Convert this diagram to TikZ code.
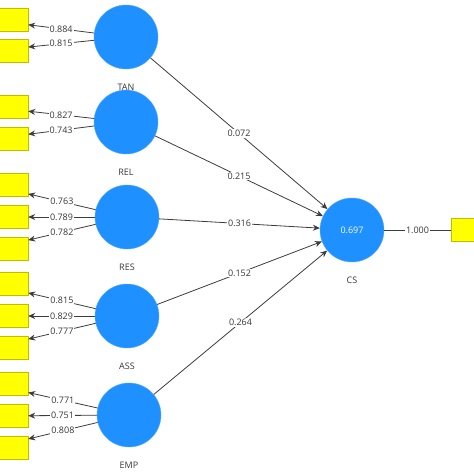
\documentclass[tikz,border=0pt]{standalone}
\usepackage{fontspec}
\setmainfont{Open Sans}
\usetikzlibrary{arrows.meta}

\definecolor{lvblue}{RGB}{30,144,255}
\definecolor{lvedge}{RGB}{90,170,255}
\definecolor{indyellow}{RGB}{255,255,0}
\definecolor{indedge}{RGB}{190,190,0}
\definecolor{pathgray}{RGB}{60,60,60}
\definecolor{txtgray}{RGB}{55,55,55}

\begin{document}
\begin{tikzpicture}[x=1pt, y=-1pt, >={Stealth[length=7pt, width=6pt]},
    lv/.style={circle, draw=lvedge, fill=lvblue, minimum size=64pt, inner sep=0pt,
      font=\small, text=white},
    lvname/.style={text=txtgray, font=\small, yshift=-11pt},
    ind/.style={rectangle, draw=indedge, fill=indyellow, minimum width=76pt, minimum height=23pt},
    conn/.style={draw=pathgray, line width=0.8pt},
    coef/.style={fill=white, inner sep=1pt, text=txtgray, font=\small}]
    \useasboundingbox (0,0) rectangle (474,474);
    \clip (0,0) rectangle (474,474);

    % latent variables
    \node[lv, label={[lvname]below:TAN}] (tan) at (126,37) {};
    \node[lv, label={[lvname]below:REL}] (rel) at (126,122) {};
    \node[lv, label={[lvname]below:RES}] (res) at (127,217) {};
    \node[lv, label={[lvname]below:ASS}] (ass) at (127,316) {};
    \node[lv, label={[lvname]below:EMP}] (emp) at (129,415) {};
    \node[lv, label={[lvname]below:CS}] (cs) at (352,230) {0.697};

    % outer loadings
    \foreach \n/\y/\v/\w in {t1/20/tan/0.884, t2/51/tan/0.815,
        r1/107/rel/0.827, r2/139/rel/0.743,
        s1/185/res/0.763, s2/217/res/0.789, s3/249/res/0.782,
        a1/284/ass/0.815, a2/316/ass/0.829, a3/348/ass/0.777,
        e1/384/emp/0.771, e2/416/emp/0.751, e3/448/emp/0.808} {
      \node[ind] (\n) at (-10,\y) {};
      \draw[->, conn] (\v) -- node[coef] {\w} (\n);
    }

    % path coefficients
    \foreach \v/\w in {tan/0.072, rel/0.215, res/0.316, ass/0.152, emp/0.264} {
      \draw[->, conn] (\v) -- node[coef] {\w} (cs);
    }

    \node[ind] (c1) at (489,230) {};
    \draw[conn] (cs) -- node[coef] {1.000} (c1);
\end{tikzpicture}
\end{document}
